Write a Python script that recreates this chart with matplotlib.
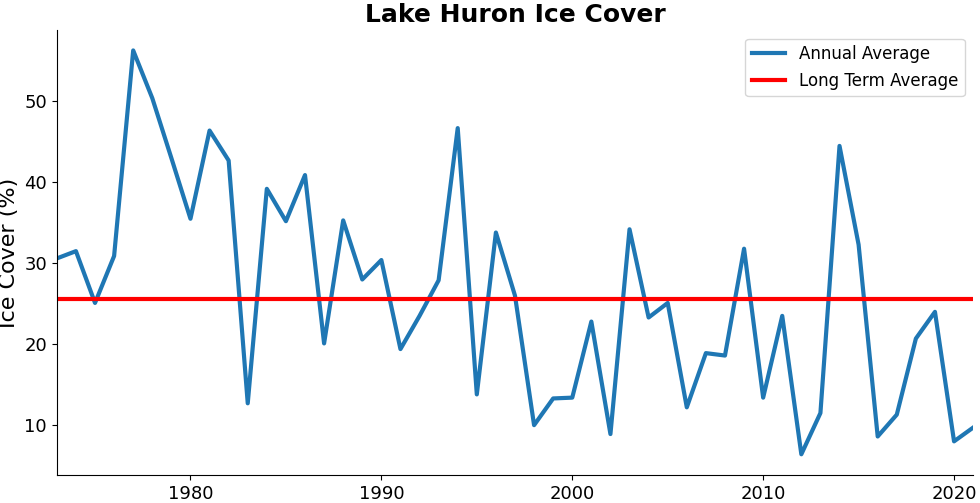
import matplotlib
matplotlib.use("Agg")
import matplotlib.pyplot as plt

years = list(range(1973, 2022))
ice_cover = [30.6, 31.5, 25.1, 30.9, 56.3, 50.4, 43.0, 35.5, 46.4, 42.7,
             12.7, 39.2, 35.2, 40.9, 20.1, 35.3, 28.0, 30.4, 19.4, 23.5,
             27.9, 46.7, 13.8, 33.8, 26.0, 10.0, 13.3, 13.4, 22.8, 8.9,
             34.2, 23.3, 25.1, 12.2, 18.9, 18.6, 31.8, 13.4, 23.5, 6.4,
             11.5, 44.5, 32.3, 8.6, 11.3, 20.7, 24.0, 8.0, 9.7]
long_term_avg = 25.6

fig, ax = plt.subplots(figsize=(9.8, 5.03), dpi=100)
fig.subplots_adjust(left=0.058, right=0.993, top=0.94, bottom=0.055)

ax.plot(years, ice_cover, color="#1f77b4", lw=3, label="Annual Average")
ax.axhline(long_term_avg, color="red", lw=3, label="Long Term Average")

ax.set_xlim(1973, 2021)
ax.set_ylim(3.8, 58.8)
ax.set_yticks([10, 20, 30, 40, 50])
ax.set_ylabel("Ice Cover (%)", fontsize=16)
ax.set_title("Lake Huron Ice Cover", fontsize=18, fontweight="bold")
ax.tick_params(labelsize=13)
ax.spines["top"].set_visible(False)
ax.spines["right"].set_visible(False)
ax.legend(fontsize=12, loc="upper right")

fig.savefig("out.png", dpi=100)
